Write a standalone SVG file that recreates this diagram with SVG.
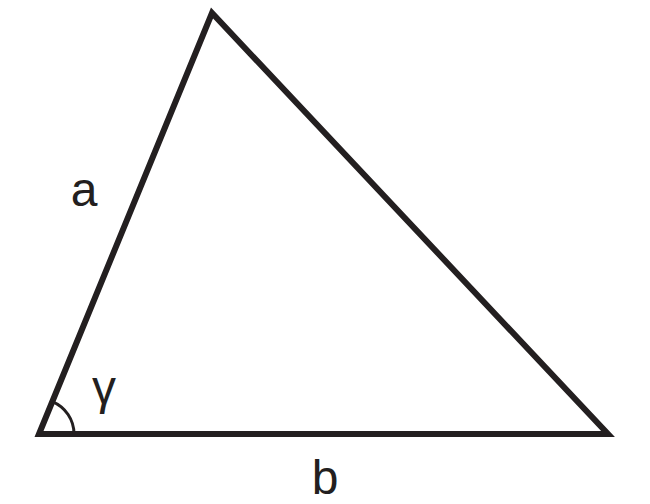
<svg xmlns="http://www.w3.org/2000/svg" width="650" height="504" viewBox="0 0 650 504">
<style>
.edge{fill:none;stroke:#231f20;stroke-width:6;stroke-linejoin:miter;stroke-miterlimit:10}
.arc{fill:none;stroke:#231f20;stroke-width:3}
.lbl{font-family:"Liberation Sans",Arial,sans-serif;font-size:48px;fill:#231f20;text-anchor:middle}
</style>
<rect width="650" height="504" fill="#ffffff"/>
<g id="triangle">
<polygon class="edge" points="39,434 212,13 608,434"/>
</g>
<g id="connectors">
<path class="arc" d="M 52.3 401.6 A 35 35 0 0 1 74 434"/>
</g>
<g id="label-a"><text class="lbl" x="84" y="206">a</text></g>
<g id="label-gamma"><text class="lbl" x="104" y="404">γ</text></g>
<g id="label-b"><text class="lbl" x="325" y="494">b</text></g>
</svg>
